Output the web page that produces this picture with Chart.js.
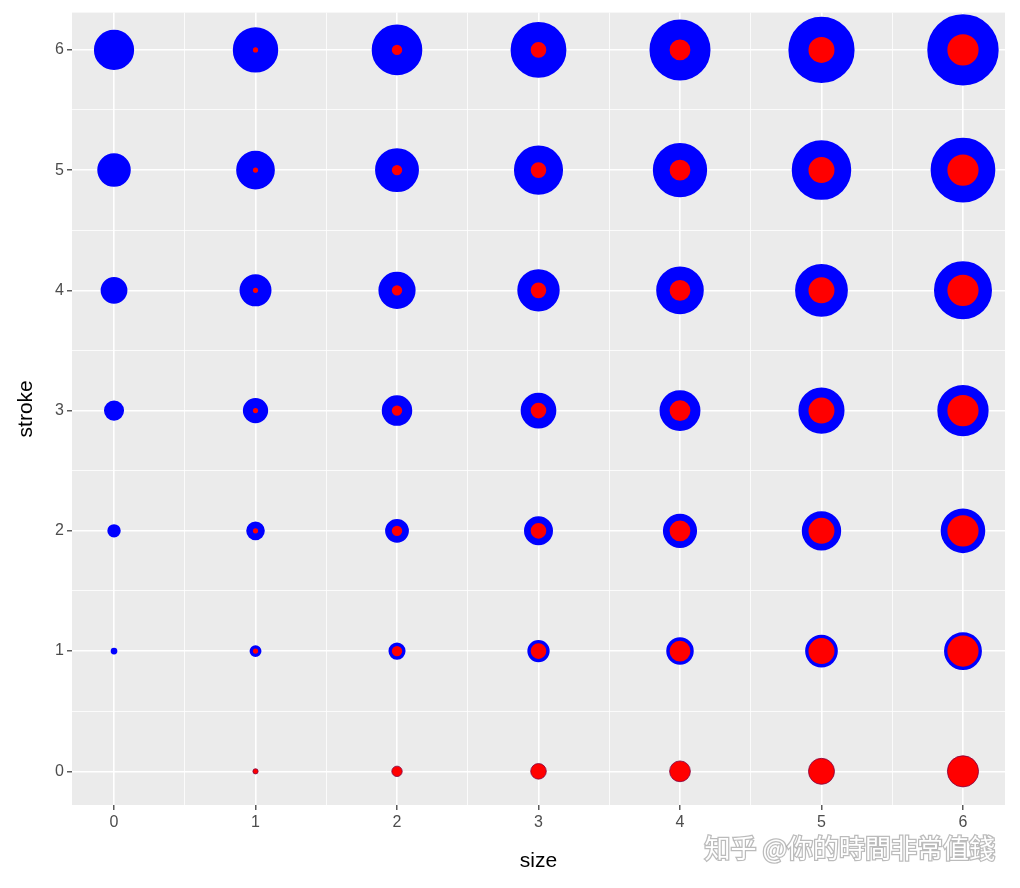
<!DOCTYPE html>
<html>
<head>
<meta charset="utf-8">
<script src="https://cdn.jsdelivr.net/npm/chart.js@4/dist/chart.umd.min.js"></script>
<style>
body { margin: 0; background: #fff; }
#box { width: 1020px; height: 888px; }
</style>
</head>
<body>
<div id="box"><canvas id="grafico"></canvas></div>
<script>
const sizes = [0, 1, 2, 3, 4, 5, 6];
const strokes = [0, 1, 2, 3, 4, 5, 6];
const xTicks = ['0', '1', '2', '3', '4', '5', '6'];
const yTicks = ['0', '1', '2', '3', '4', '5', '6'];

let pontos = [];
for (let i = 0; i < strokes.length; i++) {
    for (let j = 0; j < sizes.length; j++) {
        pontos.push({ x: sizes[j], y: strokes[i] });
    }
}

// pixel radius per unit of size (red fill) and stroke (blue ring)
const pxSize = 2.6;
const pxStroke = 3.35;

const painel = {
    id: 'painel',
    beforeDraw(chart) {
        const a = chart.chartArea, ctx = chart.ctx;
        ctx.save();
        ctx.fillStyle = '#EBEBEB';
        ctx.fillRect(a.left, a.top, a.right - a.left, a.bottom - a.top);
        ctx.restore();
    },
    afterDraw(chart) {
        const ctx = chart.ctx;
        ctx.save();
        ctx.font = '26px "Noto Sans CJK SC"';
        ctx.textAlign = 'right';
        ctx.textBaseline = 'middle';
        ctx.lineWidth = 2.5;
        ctx.strokeStyle = 'rgba(120,120,120,0.5)';
        ctx.strokeText('知乎 @你的時間非常值錢', 995, 848);
        ctx.fillStyle = '#ffffff';
        ctx.fillText('知乎 @你的時間非常值錢', 995, 848);
        ctx.restore();
    }
};

function isMajor(ctx) {
    return ctx.tick && Number.isInteger(ctx.tick.value);
}

function eixo(titulo, labels, min, max, tamanho, pad) {
    return {
        type: 'linear',
        min: min,
        max: max,
        afterBuildTicks(s) {
            let t = [];
            for (let v = 0; v <= 6; v += 0.5) t.push({ value: v });
            s.ticks = t;
        },
        afterFit(s) {
            if (s.isHorizontal()) s.height = tamanho; else s.width = tamanho;
        },
        border: { display: false },
        grid: {
            color: '#ffffff',
            lineWidth: c => isMajor(c) ? 1.6 : 0.8,
            drawTicks: true,
            tickLength: 5,
            tickColor: c => isMajor(c) ? '#333333' : 'rgba(0,0,0,0)',
            tickWidth: 1.2
        },
        ticks: {
            autoSkip: false,
            maxRotation: 0,
            color: '#4D4D4D',
            font: { size: 16, family: 'Arial, "Liberation Sans"' },
            padding: 3,
            callback: v => Number.isInteger(v) ? labels[v] : ''
        },
        title: {
            display: true,
            text: titulo,
            color: '#000000',
            font: { size: 21, family: 'Arial, "Liberation Sans"' },
            padding: pad
        }
    };
}

new Chart(document.getElementById('grafico'), {
    type: 'scatter',
    data: {
        datasets: [{
            data: pontos,
            backgroundColor: '#FF0000',
            borderColor: '#0000FF',
            pointStyle: 'circle',
            pointRadius: c => c.raw.x * pxSize + c.raw.y * pxStroke / 2,
            pointHoverRadius: c => c.raw.x * pxSize + c.raw.y * pxStroke / 2,
            pointBorderWidth: c => c.raw.y === 0 ? 0.8 : c.raw.y * pxStroke,
            pointBorderColor: c => c.raw.y === 0 ? '#800040' : '#0000FF',
            clip: false
        }]
    },
    options: {
        responsive: true,
        maintainAspectRatio: false,
        animation: false,
        layout: { autoPadding: false, padding: { top: 12, right: 15, left: 0, bottom: 0 } },
        plugins: {
            legend: { display: false },
            tooltip: { enabled: false }
        },
        scales: {
            x: eixo('size', xTicks, -0.297, 6.297, 83, { top: 2, bottom: 14 }),
            y: eixo('stroke', yTicks, -0.28, 6.31, 72, { top: 14, bottom: 4 })
        }
    },
    plugins: [painel]
});
</script>
</body>
</html>
